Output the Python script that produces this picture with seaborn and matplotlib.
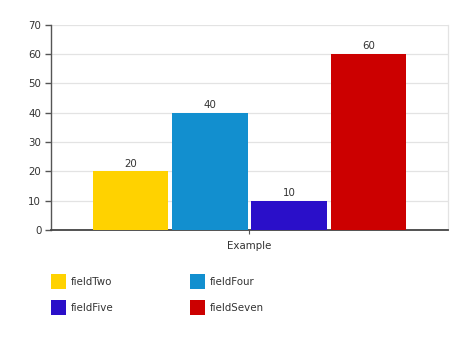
import matplotlib
matplotlib.use("Agg")
import matplotlib.pyplot as plt
from matplotlib.patches import Patch
import pandas as pd
import seaborn as sns

# Chart data
groups = ["Example"]
fields = ["fieldTwo", "fieldFour", "fieldFive", "fieldSeven"]
values = [20, 40, 10, 60]
colors = ["#FFD200", "#128FCF", "#2A0FC9", "#CC0000"]
y_ticks = [0, 10, 20, 30, 40, 50, 60, 70]

df = pd.DataFrame({
    "group": groups * len(fields),
    "field": fields,
    "value": values,
})

sns.set_theme(style="white")
plt.rcParams["font.family"] = ["DejaVu Sans"]
text_color = "#333333"
fs = 7.4

fig = plt.figure(figsize=(4.74, 3.47), dpi=100)
ax = fig.add_axes([0.1076, 0.337, 0.8375, 0.592])

sns.barplot(
    data=df, x="group", y="value", hue="field",
    hue_order=fields, palette=colors, saturation=1, gap=0.05,
    linewidth=0, legend=False, ax=ax, zorder=3,
)

for container in ax.containers:
    ax.bar_label(container, padding=2, fontsize=fs, color=text_color)

ax.set_ylim(0, 70)
ax.set_xlim(-0.5, 0.5)
ax.set_yticks(y_ticks)
ax.yaxis.grid(True, color="#e3e3e3", linewidth=0.9, zorder=0)
ax.set_axisbelow(True)
ax.set_xlabel("")
ax.set_ylabel("")

ax.spines["top"].set_visible(False)
ax.spines["right"].set_color("#e3e3e3")
ax.spines["right"].set_linewidth(0.9)
ax.spines["left"].set_color("#555555")
ax.spines["left"].set_linewidth(1.0)
ax.spines["bottom"].set_color("#444444")
ax.spines["bottom"].set_linewidth(1.3)

ax.tick_params(axis="y", which="both", left=True, length=4, width=1,
               color="#555555", labelsize=fs, labelcolor=text_color, pad=3)
ax.tick_params(axis="x", which="both", bottom=True, length=3, width=0.8,
               color="#555555", labelsize=fs, labelcolor=text_color, pad=5)

# Legend below the plot, two columns
handles = [Patch(facecolor=c, edgecolor="none", label=f) for f, c in zip(fields, colors)]
order = [0, 2, 1, 3]
fig.legend(
    [handles[i] for i in order], [fields[i] for i in order],
    ncol=2, loc="upper left", bbox_to_anchor=(0.1076, 0.211),
    frameon=False, fontsize=fs, labelcolor=text_color,
    handlelength=1.5, handleheight=1.91, handletextpad=0.45,
    columnspacing=7.4, labelspacing=1.08, borderaxespad=0, borderpad=0,
)

fig.savefig("out.png", dpi=100)
